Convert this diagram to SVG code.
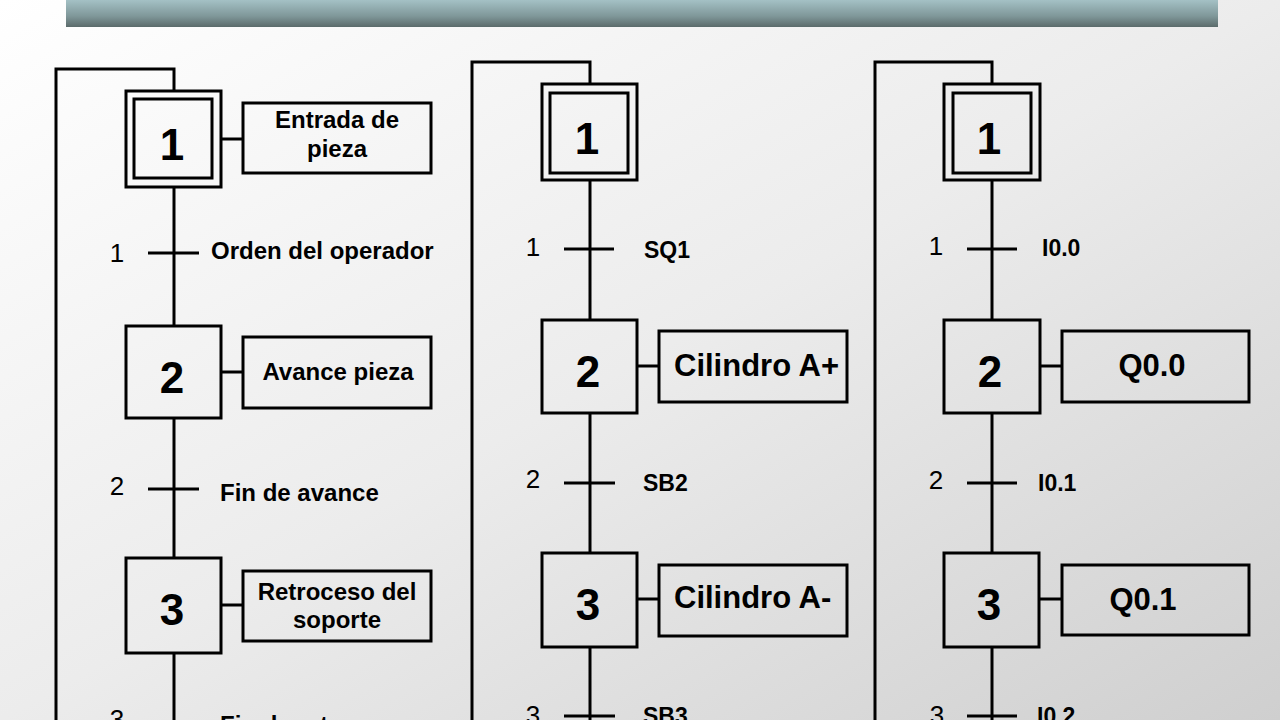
<svg xmlns="http://www.w3.org/2000/svg" width="1280" height="720" viewBox="0 0 1280 720">
<defs>
<linearGradient id="bg" x1="0" y1="0" x2="1" y2="1">
<stop offset="0" stop-color="#ffffff"/>
<stop offset="0.5" stop-color="#ececec"/>
<stop offset="1" stop-color="#cfcfcf"/>
</linearGradient>
<linearGradient id="bar" x1="0" y1="0" x2="0" y2="1">
<stop offset="0" stop-color="#a4c1c5"/>
<stop offset="0.6" stop-color="#7f9799"/>
<stop offset="1" stop-color="#5b6b6b"/>
</linearGradient>
</defs>
<style>
.ln{stroke:#000;stroke-width:3;fill:none}
.box{stroke:#000;stroke-width:3;fill:none}
.num{font-family:"Liberation Sans",Arial,sans-serif;font-weight:bold;font-size:44px;fill:#000;text-anchor:middle}
.tn{font-family:"Liberation Sans",Arial,sans-serif;font-size:26px;fill:#000;text-anchor:middle}
.lbl{font-family:"Liberation Sans",Arial,sans-serif;font-weight:bold;font-size:24px;fill:#000}
.big{font-family:"Liberation Sans",Arial,sans-serif;font-weight:bold;font-size:31px;fill:#000}
.tl{font-family:"Liberation Sans",Arial,sans-serif;font-weight:bold;font-size:23px;fill:#000}
.mid{text-anchor:middle}
</style>
<rect x="0" y="0" width="1280" height="720" fill="url(#bg)"/>
<rect x="66" y="0" width="1152" height="27" fill="url(#bar)"/>

<g id="connectors">
<!-- column 1 -->
<polyline class="ln" points="56,720 56,69 174,69 174,91"/>
<line class="ln" x1="174" y1="187" x2="174" y2="326"/>
<line class="ln" x1="174" y1="418" x2="174" y2="558"/>
<line class="ln" x1="174" y1="653" x2="174" y2="720"/>
<line class="ln" x1="221" y1="139" x2="243" y2="139"/>
<line class="ln" x1="221" y1="372" x2="243" y2="372"/>
<line class="ln" x1="221" y1="605" x2="243" y2="605"/>
<!-- column 2 -->
<polyline class="ln" points="472,720 472,62 590,62 590,84"/>
<line class="ln" x1="590" y1="180" x2="590" y2="320"/>
<line class="ln" x1="590" y1="413" x2="590" y2="553"/>
<line class="ln" x1="590" y1="647" x2="590" y2="720"/>
<line class="ln" x1="637" y1="366" x2="659" y2="366"/>
<line class="ln" x1="637" y1="599" x2="659" y2="599"/>
<!-- column 3 -->
<polyline class="ln" points="875,720 875,62 992,62 992,84"/>
<line class="ln" x1="992" y1="180" x2="992" y2="320"/>
<line class="ln" x1="992" y1="413" x2="992" y2="553"/>
<line class="ln" x1="992" y1="647" x2="992" y2="720"/>
<line class="ln" x1="1040" y1="366" x2="1062" y2="366"/>
<line class="ln" x1="1040" y1="599" x2="1062" y2="599"/>
</g>

<!-- Column 1 -->
<g id="c1-step1">
<rect class="box" x="126" y="91" width="95" height="96"/>
<rect class="box" x="134" y="99" width="78" height="79"/>
<text class="num" x="172" y="160">1</text>
</g>
<g id="c1-action1">
<rect class="box" x="243" y="103" width="188" height="70"/>
<text class="lbl mid" x="337" y="128">Entrada de</text>
<text class="lbl mid" x="337" y="157">pieza</text>
</g>
<g id="c1-t1">
<line class="ln" x1="148" y1="253" x2="199" y2="253"/>
<text class="tn" x="117" y="262">1</text>
<text class="lbl" x="211" y="259">Orden del operador</text>
</g>
<g id="c1-step2">
<rect class="box" x="126" y="326" width="95" height="92"/>
<text class="num" x="172" y="393">2</text>
</g>
<g id="c1-action2">
<rect class="box" x="243" y="337" width="188" height="71"/>
<text class="lbl mid" x="338" y="380">Avance pieza</text>
</g>
<g id="c1-t2">
<line class="ln" x1="148" y1="489" x2="199" y2="489"/>
<text class="tn" x="117" y="495">2</text>
<text class="lbl" x="220" y="501">Fin de avance</text>
</g>
<g id="c1-step3">
<rect class="box" x="126" y="558" width="95" height="95"/>
<text class="num" x="172" y="625">3</text>
</g>
<g id="c1-action3">
<rect class="box" x="243" y="571" width="188" height="70"/>
<text class="lbl mid" x="337" y="600">Retroceso del</text>
<text class="lbl mid" x="337" y="628">soporte</text>
</g>
<g id="c1-t3">
<line class="ln" x1="148" y1="722" x2="199" y2="722"/>
<text class="tn" x="117" y="728">3</text>
<text class="lbl" x="220" y="733">Fin de retroceso</text>
</g>

<!-- Column 2 -->
<g id="c2-step1">
<rect class="box" x="542" y="84" width="95" height="96"/>
<rect class="box" x="550" y="93" width="78" height="80"/>
<text class="num" x="587" y="154">1</text>
</g>
<g id="c2-t1">
<line class="ln" x1="564" y1="249" x2="614" y2="249"/>
<text class="tn" x="533" y="256">1</text>
<text class="tl" x="644" y="258">SQ1</text>
</g>
<g id="c2-step2">
<rect class="box" x="542" y="320" width="95" height="93"/>
<text class="num" x="588" y="387">2</text>
</g>
<g id="c2-action2">
<rect class="box" x="659" y="331" width="188" height="71"/>
<text class="big" x="674" y="376">Cilindro A+</text>
</g>
<g id="c2-t2">
<line class="ln" x1="564" y1="483" x2="615" y2="483"/>
<text class="tn" x="533" y="488">2</text>
<text class="tl" x="643" y="491">SB2</text>
</g>
<g id="c2-step3">
<rect class="box" x="542" y="553" width="95" height="94"/>
<text class="num" x="588" y="620">3</text>
</g>
<g id="c2-action3">
<rect class="box" x="659" y="565" width="188" height="71"/>
<text class="big" x="674" y="608">Cilindro A-</text>
</g>
<g id="c2-t3">
<line class="ln" x1="564" y1="716" x2="615" y2="716"/>
<text class="tn" x="533" y="724">3</text>
<text class="tl" x="643" y="724">SB3</text>
</g>

<!-- Column 3 -->
<g id="c3-step1">
<rect class="box" x="944" y="84" width="96" height="96"/>
<rect class="box" x="953" y="93" width="78" height="80"/>
<text class="num" x="989" y="154">1</text>
</g>
<g id="c3-t1">
<line class="ln" x1="967" y1="249" x2="1017" y2="249"/>
<text class="tn" x="936" y="255">1</text>
<text class="tl" x="1042" y="256">I0.0</text>
</g>
<g id="c3-step2">
<rect class="box" x="944" y="320" width="96" height="93"/>
<text class="num" x="990" y="387">2</text>
</g>
<g id="c3-action2">
<rect class="box" x="1062" y="331" width="187" height="71"/>
<text class="big mid" x="1152" y="376">Q0.0</text>
</g>
<g id="c3-t2">
<line class="ln" x1="967" y1="483" x2="1017" y2="483"/>
<text class="tn" x="936" y="489">2</text>
<text class="tl" x="1038" y="491">I0.1</text>
</g>
<g id="c3-step3">
<rect class="box" x="944" y="553" width="95" height="94"/>
<text class="num" x="989" y="620">3</text>
</g>
<g id="c3-action3">
<rect class="box" x="1062" y="565" width="187" height="70"/>
<text class="big mid" x="1143" y="610">Q0.1</text>
</g>
<g id="c3-t3">
<line class="ln" x1="967" y1="716" x2="1017" y2="716"/>
<text class="tn" x="937" y="724">3</text>
<text class="tl" x="1037" y="724">I0.2</text>
</g>
</svg>
